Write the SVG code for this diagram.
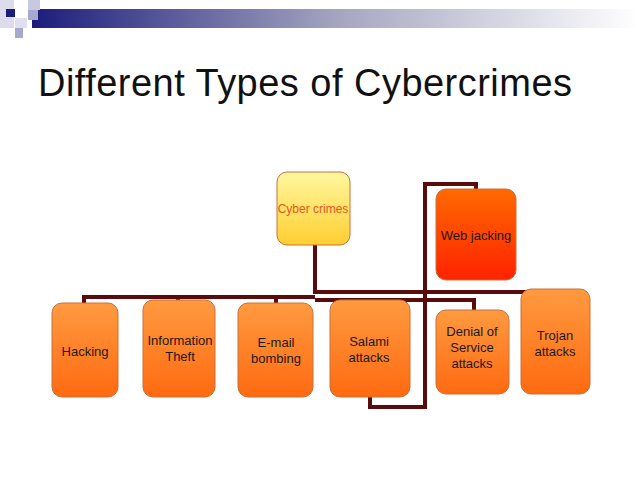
<svg xmlns="http://www.w3.org/2000/svg" width="638" height="478" viewBox="0 0 638 478">
<defs>
<linearGradient id="bar" x1="0" x2="1" y1="0" y2="0"><stop offset="0" stop-color="#1c1c7c"/><stop offset="0.5" stop-color="#a4a4c0"/><stop offset="1" stop-color="#ffffff"/></linearGradient>
<linearGradient id="org" x1="0" x2="0" y1="0" y2="1"><stop offset="0" stop-color="#ff9a40"/><stop offset="1" stop-color="#ff6a10"/></linearGradient>
<linearGradient id="red" x1="0" x2="0" y1="0" y2="1"><stop offset="0" stop-color="#ff6a00"/><stop offset="1" stop-color="#ff2200"/></linearGradient>
<linearGradient id="yel" x1="0" x2="0" y1="0" y2="1"><stop offset="0" stop-color="#fff8a0"/><stop offset="1" stop-color="#ffce30"/></linearGradient>
<style>
.b{stroke:#c8703a;stroke-width:1}
.t{font-family:"Liberation Sans",Arial,sans-serif;font-size:13px;fill:#1a1a1a;text-anchor:middle}
.c{fill:none;stroke:#5a0c0c;stroke-width:4}
</style>
</defs>
<rect x="0" y="0" width="638" height="478" fill="#fff"/>
<rect x="32" y="9" width="606" height="19" fill="url(#bar)"/>
<rect x="0" y="0" width="14" height="28" fill="#dcdcec"/>
<rect x="28" y="0" width="12" height="10" fill="#c8c8e0"/>
<rect x="15" y="18" width="12" height="10" fill="#e0e0ee"/>
<rect x="15" y="28" width="8" height="10" fill="#a8a8cc"/>
<rect x="6" y="9" width="9" height="8" fill="#1c1c7c"/>
<rect x="28" y="10" width="10" height="10" fill="#a8a8cc"/>
<text x="38" y="96" font-family="Liberation Sans,Arial,sans-serif" font-size="38" textLength="534" fill="#111">Different Types of Cybercrimes</text>
<g id="connectors">
<path class="c" d="M315 245V294M315 292H558V290"/>
<path class="c" d="M315 297H84V303M178 297V300M276 297V303M315 300H474V310"/>
<path class="c" d="M178 297H315" stroke-width="5"/>
<path class="c" d="M476 189V184H425V407H370V397"/>
</g>
<g id="cyber"><rect class="b" x="277" y="172" width="73" height="73" rx="10" fill="url(#yel)"/><text x="313" y="213" class="t" style="fill:#e8561a;font-size:12px">Cyber crimes</text></g>
<g id="web"><rect class="b" x="436" y="189" width="80" height="91" rx="10" fill="url(#red)"/><text x="476" y="240" class="t">Web jacking</text></g>
<g id="hacking"><rect class="b" x="52" y="303" width="66" height="94" rx="10" fill="url(#org)"/><text x="85" y="356" class="t">Hacking</text></g>
<g id="info"><rect class="b" x="143" y="300" width="72" height="97" rx="10" fill="url(#org)"/><text x="180" y="345" class="t">Information</text><text x="180" y="361" class="t">Theft</text></g>
<g id="email"><rect class="b" x="238" y="303" width="75" height="94" rx="10" fill="url(#org)"/><text x="276" y="347" class="t">E-mail</text><text x="276" y="363" class="t">bombing</text></g>
<g id="salami"><rect class="b" x="330" y="300" width="80" height="97" rx="10" fill="url(#org)"/><text x="369" y="346" class="t">Salami</text><text x="369" y="362" class="t">attacks</text></g>
<g id="dos"><rect class="b" x="436" y="310" width="73" height="84" rx="10" fill="url(#org)"/><text x="472" y="336" class="t">Denial of</text><text x="472" y="352" class="t">Service</text><text x="472" y="368" class="t">attacks</text></g>
<g id="trojan"><rect class="b" x="521" y="289" width="69" height="105" rx="10" fill="url(#org)"/><text x="555" y="340" class="t">Trojan</text><text x="555" y="356" class="t">attacks</text></g>
</svg>
